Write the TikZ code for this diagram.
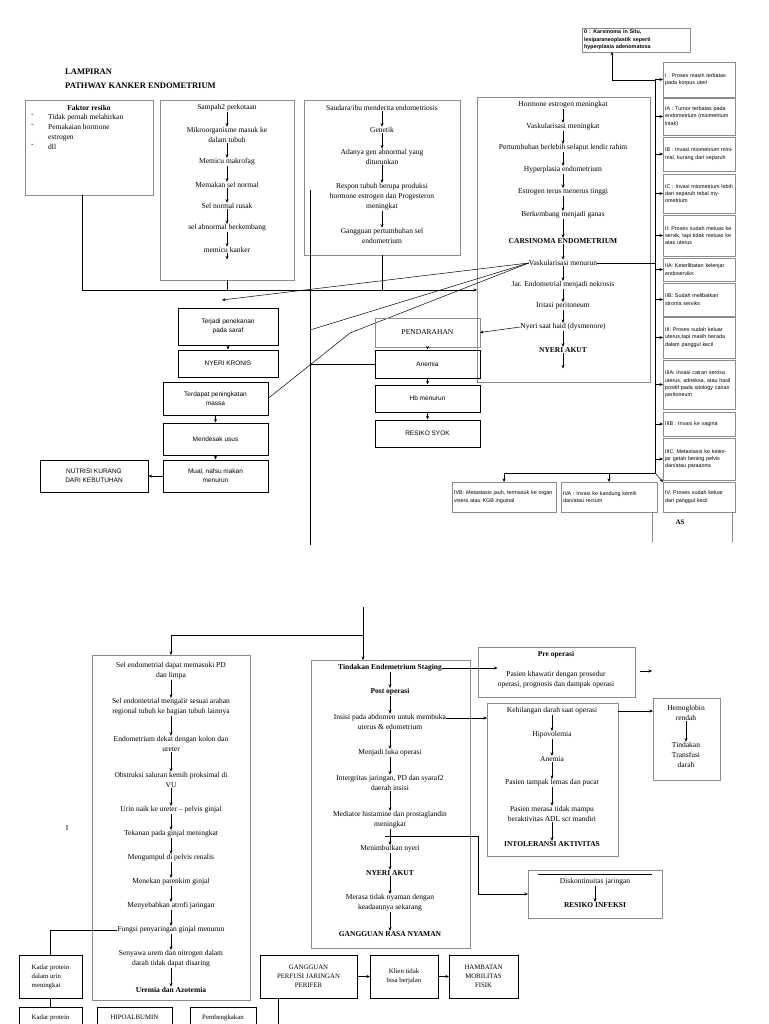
\documentclass[tikz,border=0pt]{standalone}
\usepackage{fontspec}
\setmainfont{Liberation Serif}
\newfontfamily\sansf{Liberation Sans}
\usetikzlibrary{arrows.meta,calc}
\tikzset{
  tx/.style={font=\fontsize{7.5}{10}\selectfont, align=center, inner sep=0pt},
  bt/.style={font=\bfseries\fontsize{7.5}{10}\selectfont, align=center, inner sep=0pt},
  gbox/.style={draw=black!45, anchor=north west, inner sep=0pt, outer sep=0pt},
  kbox/.style={draw, line width=0.8pt, anchor=north west, align=center, inner sep=1pt,
    outer sep=0pt, font=\sansf\fontsize{6.5}{9}\selectfont},
  sbox/.style={draw=black!45, anchor=north west, inner sep=2pt, align=left, text width=68pt,
    outer sep=0pt, font=\sansf\fontsize{5.4}{7.4}\selectfont},
  rbox/.style={draw=black!60, anchor=north west, align=center, inner sep=1pt, outer sep=0pt,
    font=\fontsize{6.8}{9}\selectfont},
  ar/.style={-{Stealth[length=3.5pt,width=3pt]}, line width=0.5pt},
  ln/.style={line width=0.5pt},
  ch/.style={ar, shorten >=0.5pt, shorten <=0.5pt}
}
\begin{document}
\begin{tikzpicture}[x=1pt,y=-1pt]
\useasboundingbox (0,0) rectangle (768,1024);
\fill[white] (0,0) rectangle (768,1024);

% ---------- title
\node[bt, anchor=west, font=\bfseries\fontsize{8.5}{10}\selectfont] (ttl1) at (65,72) {LAMPIRAN};
\node[bt, anchor=west, font=\bfseries\fontsize{8.5}{10}\selectfont] (ttl2) at (65,86) {PATHWAY KANKER ENDOMETRIUM};

% ---------- Faktor resiko
\node[gbox, minimum width=128, minimum height=95] (fak) at (25,100) {};
\node[bt] (fak0) at (89,108) {Faktor resiko};
\node[tx, anchor=north west, align=left] (fak1) at (31,114) {-\\-\\\strut\\-};
\node[tx, anchor=north west, align=left] (fak2) at (48,114) {Tidak pernah melahirkan\\Pemakaian hormone\\estrogen\\dll};

% ---------- Sampah2
\node[gbox, minimum width=134, minimum height=180] (sam) at (160,100) {};
\node[tx] (a1) at (227,108) {Sampah2 perkotaan};
\node[tx] (a2) at (227,135) {Mikroorganisme masuk ke\\dalam tubuh};
\node[tx] (a3) at (227,162) {Memicu makrofag};
\node[tx] (a4) at (227,185) {Memakan sel normal};
\node[tx] (a5) at (227,206) {Sel normal rusak};
\node[tx] (a6) at (227,228) {sel abnormal berkembang};
\node[tx] (a7) at (227,250) {memicu kanker};
\coordinate (a8) at (227,260);
\foreach \p/\q in {a1/a2,a2/a3,a3/a4,a4/a5,a5/a6,a6/a7} \draw[ch] (\p.south) -- (\q.north);
\draw[ch] (a7.south) -- (a8);

% ---------- Saudara
\node[gbox, minimum width=156, minimum height=155] (sau) at (304,100) {};
\node[tx] (b1) at (382,108) {Saudara/ibu menderita endometriosis};
\node[tx] (b2) at (382,130) {Genetik};
\node[tx] (b3) at (382,157) {Adanya gen abnormal yang\\diturunkan};
\node[tx] (b4) at (382,197) {Respon tubuh berupa produksi\\hormone estrogen dan Progesteron\\meningkat};
\node[tx] (b5) at (382,236) {Gangguan pertumbuhan sel\\endometrium};
\foreach \p/\q in {b1/b2,b2/b3,b3/b4,b4/b5} \draw[ch] (\p.south) -- (\q.north);

% ---------- main chain
\node[gbox, minimum width=173, minimum height=285] (mainb) at (477,97) {};
\node[tx] (c1) at (563,105) {Hormone estrogen meningkat};
\node[tx] (c2) at (563,127) {Vaskularisasi meningkat};
\node[tx] (c3) at (563,148) {Pertumbuhan berlebih selaput lendir rahim};
\node[tx] (c4) at (563,170) {Hyperplasia endometrium};
\node[tx] (c5) at (563,192) {Estrogen terus menerus tinggi};
\node[tx] (c6) at (563,215) {Berkembang menjadi ganas};
\node[bt] (c7) at (563,241) {CARSINOMA ENDOMETRIUM};
\node[tx] (c8) at (563,263) {Vaskularisasi menurun};
\node[tx] (c9) at (563,285) {Jar. Endometrial menjadi nekrosis};
\node[tx] (c10) at (563,306) {Iritasi peritoneum};
\node[tx] (c11) at (563,327) {Nyeri saat haid (dysmenore)};
\node[bt] (c12) at (563,350) {NYERI AKUT};
\coordinate (c13) at (563,369);
\foreach \p/\q in {c1/c2,c2/c3,c3/c4,c4/c5,c5/c6,c6/c7,c7/c8,c8/c9,c9/c10,c10/c11,c11/c12} \draw[ch] (\p.south) -- (\q.north);
\draw[ch] (c12.south) -- (c13);

% ---------- collector line
\coordinate (j1) at (82,290);
\coordinate (j2) at (227,290);
\coordinate (j3) at (382,290);
\draw[ln] (fak.south -| j1) -- (j1);
\draw[ln] (sam.south -| j2) -- (j2);
\draw[ln] (sau.south -| j3) -- (j3);
\draw[ar] (j1) -- (j1 -| mainb.west);

% ---------- left branch
\node[kbox, minimum width=100, minimum height=37] (pen) at (178,308) {Terjadi penekanan\\pada saraf};
\node[kbox, minimum width=100, minimum height=27] (nk) at (178,350) {NYERI KRONIS};
\node[kbox, minimum width=105, minimum height=33] (trd) at (163,382) {Terdapat peningkatan\\massa};
\node[kbox, minimum width=105, minimum height=32] (mds) at (163,423) {Mendesak usus};
\node[kbox, minimum width=105, minimum height=32] (mual) at (163,460) {Mual, nafsu makan\\menurun};
\node[kbox, minimum width=108, minimum height=32] (nut) at (40,460) {NUTRISI KURANG\\DARI KEBUTUHAN};
\draw[ch] (pen) -- (nk);
\draw[ch] (trd) -- (mds);
\draw[ch] (mds) -- (mual);
\draw[ch] (mual) -- (nut);

% ---------- fan from Vaskularisasi menurun
\coordinate (penin) at (222,300);
\coordinate (k1) at (310,330);
\coordinate (k2) at (350,333);
\coordinate (v1) at (310,190);
\coordinate (v2) at (310,545);
\draw[ar] (c8.west) -- (penin);
\draw[ln] (c8.west) -- (k1);
\draw[ln] (c8.west) -- (k2) -- (trd.east);
\draw[ln] (v1) -- (v2);

% ---------- pendarahan
\node[rbox, draw=black!45, minimum width=105, minimum height=29, font=\fontsize{7.5}{9}\selectfont] (pend) at (375,318) {PENDARAHAN};
\node[kbox, minimum width=105, minimum height=28] (anm) at (375,350) {Anemia};
\node[kbox, minimum width=105, minimum height=27] (hb) at (375,385) {Hb menurun};
\node[kbox, minimum width=105, minimum height=27] (syk) at (375,420) {RESIKO SYOK};
\draw[ar] (c11.west) -- (pend.east);
\draw[ch] (pend) -- (anm);
\draw[ch] (anm) -- (hb);
\draw[ch] (hb) -- (syk);
\draw[ln] (anm.west -| v1) -- (anm.west);

% ---------- stage column
\node[sbox, text width=104pt, font=\sansf\bfseries\fontsize{5.4}{7.4}\selectfont] (s0) at (582,28) {0 : Karsinoma in Situ,\\lesiparaneoplastik seperti\\hyperplasia adenomatosa};
\node[sbox, minimum height=35] (s1) at (663,62) {I : Proses masih terbatas pada korpus uteri};
\node[sbox, minimum height=37] (s2) at (663,98) {IA : Tumor terbatas pada endometrium (miometrium intak)};
\node[sbox, minimum height=34] (s3) at (663,137) {IB : Invasi miometrium minimal, kurang dari separuh};
\node[sbox, minimum height=39] (s4) at (663,174) {IC : Invasi miometrium lebih dari separuh tebal myometrium};
\node[sbox, minimum height=41] (s5) at (663,215) {II: Proses sudah meluas ke servik, tapi tidak meluas ke atas uterus};
\node[sbox, minimum height=23] (s6) at (663,258) {IIA: Keterlibatan kelenjar endoserviks};
\node[sbox, minimum height=33] (s7) at (663,283) {IIB: Sudah melibatkan stroma serviks};
\node[sbox, minimum height=41] (s8) at (663,317) {III: Proses sudah keluar uterus,tapi masih berada dalam panggul kecil};
\node[sbox, minimum height=49] (s9) at (663,360) {IIIA: Invasi cairan serosa uterus, adneksa, atau hasil positif pada sitology cairan peritoneum};
\node[sbox, minimum height=24] (s10) at (663,412) {IIIB : Invasi ke vagina};
\node[sbox, minimum height=42] (s11) at (663,438) {IIIC: Metastasis ke kelenjar getah bening pelvis dan/atau paraaorta};
\node[sbox, minimum height=30] (s12) at (663,482) {IV: Proses sudah keluar dari panggul kecil};
\node[sbox, text width=100pt, minimum height=30] (ivb) at (452,482) {IVB: Metastasis jauh, termasuk ke organ visera atau KGB inguinal};
\node[sbox, text width=92pt, minimum height=30] (iva) at (561,482) {IVA : Invasi ke kandung kemih dan/atau rectum};

\coordinate (sp) at (655,80);
\coordinate (c0) at (612,80);
\coordinate (sb) at (655,473);
\draw[ln] (sp) -- (sb);
\draw[ln] (sp) -- (c0);
\draw[ar] (c0) -- (c0 |- s0.south);
\foreach \s in {s1,s2,s3,s4,s5,s6,s7,s8,s9,s10,s11} \draw[ar] (\s.west -| sp) -- (\s.west);
\draw[ln] (c8.east) -- (c8.east -| sp);
\draw[ar] (sb) -| (ivb.north);
\draw[ar] (sb) -| (iva.north);
\draw[ar] (sb) -- (s12.north west);
\node[bt, font=\bfseries\fontsize{7}{8}\selectfont] (as) at (680,522) {AS};
\coordinate (w1) at (652,512);
\coordinate (w2) at (652,542);
\coordinate (w3) at (732,512);
\coordinate (w4) at (732,542);
\draw[draw=black!45] (w1) -- (w2);
\draw[draw=black!45] (w3) -- (w4);

% ---------- lower half
\coordinate (t0) at (363,607);
\coordinate (t1) at (363,635);
\node[gbox, minimum width=158, minimum height=345] (lb) at (92,655) {};
\node[gbox, minimum width=159, minimum height=288] (mb) at (311,660) {};
\draw[ln] (t0) -- (t1);
\draw[ar] (t1) -| (lb.north);
\draw[ar] (t1) -- (t1 |- mb.north);

\node[tx] (l1) at (171,671) {Sel endometrial dapat memasuki PD\\dan limpa};
\node[tx] (l2) at (171,707) {Sel endometrial mengalir sesuai arahan\\regional tubuh ke bagian tubuh lainnya};
\node[tx] (l3) at (171,744) {Endometrium dekat dengan kolon dan\\ureter};
\node[tx] (l4) at (171,780) {Obstruksi saluran kemih proksimal di\\VU};
\node[tx] (l5) at (171,810) {Urin naik ke ureter -- pelvis ginjal};
\node[tx] (l6) at (171,834) {Tekanan pada ginjal meningkat};
\node[tx] (l7) at (171,858) {Mengumpul di pelvis renalis};
\node[tx] (l8) at (171,882) {Menekan parenkim ginjal};
\node[tx] (l9) at (171,906) {Menyebabkan atrofi jaringan};
\node[tx] (l10) at (171,930) {Fungsi penyaringan ginjal menurun};
\node[tx] (l11) at (171,959) {Senyawa urem dan nitrogen dalam\\darah tidak dapat disaring};
\node[bt] (l12) at (171,990) {Uremia dan Azotemia};
\foreach \p/\q in {l1/l2,l2/l3,l3/l4,l4/l5,l5/l6,l6/l7,l7/l8,l8/l9,l9/l10,l10/l11,l11/l12} \draw[ch] (\p.south) -- (\q.north);

\node[tx] (bar) at (67,828) {I};
\node[rbox, align=left, minimum width=63, minimum height=43, draw=black] (kp1) at (19,955) {Kadar protein\\dalam urin\\meningkat};
\node[rbox, align=left, minimum width=63, minimum height=30, draw=black, anchor=north west] (kp2) at (19,1007) {Kadar protein\\};
\node[rbox, minimum width=75, minimum height=30, draw=black] (hip) at (97,1007) {HIPOALBUMIN\\};
\node[rbox, minimum width=66, minimum height=30, draw=black] (pmb) at (190,1007) {Pembengkakan\\};
\draw[ln] (l10.west) -| (kp1.north);
\draw[ln] (kp1.south) -- (kp2.north);

\node[bt] (m1) at (390,668) {Tindakan Endemetrium Staging};
\node[bt] (m2) at (390,692) {Post operasi};
\node[tx] (m3) at (390,722) {Insisi pada abdomen untuk membuka\\uterus \& edometrium};
\node[tx] (m4) at (390,753) {Menjadi luka operasi};
\node[tx] (m5) at (390,783) {Intergritas jaringan, PD dan syaraf2\\daerah insisi};
\node[tx] (m6) at (390,820) {Mediator histamine dan prostaglandin\\meningkat};
\node[tx] (m7) at (390,849) {Menimbulkan nyeri};
\node[bt] (m8) at (390,873) {NYERI AKUT};
\node[tx] (m9) at (390,903) {Merasa tidak nyaman dengan\\keadaannya sekarang};
\node[bt] (m10) at (390,934) {GANGGUAN RASA NYAMAN};
\foreach \p/\q in {m1/m2,m2/m3,m3/m4,m4/m5,m5/m6,m6/m7,m7/m8,m8/m9,m9/m10} \draw[ch] (\p.south) -- (\q.north);

\node[gbox, minimum width=157, minimum height=50] (preb) at (478,647) {};
\node[bt] (p1) at (556,655) {Pre operasi};
\node[tx] (p2) at (556,680) {Pasien khawatir dengan prosedur\\operasi, prognosis dan dampak operasi};
\draw[ar] (m1.east) -- (m1.east -| p2.west);
\coordinate (pa) at (640,671);
\coordinate (pb) at (652,671);
\draw[ar] (pa) -- (pb);

\node[gbox, minimum width=131, minimum height=153] (kb) at (487,703) {};
\node[tx] (k1t) at (552,711) {Kehilangan darah saat operasi};
\node[tx] (k2t) at (552,735) {Hipovolemia};
\node[tx] (k3t) at (552,759) {Anemia};
\node[tx] (k4t) at (552,783) {Pasien tampak lemas dan pucat};
\node[tx] (k5t) at (552,814) {Pasien merasa tidak mampu\\beraktivitas ADL scr mandiri};
\node[bt] (k6t) at (552,844) {INTOLERANSI AKTIVITAS};
\foreach \p/\q in {k1t/k2t,k2t/k3t,k3t/k4t,k4t/k5t,k5t/k6t} \draw[ch] (\p.south) -- (\q.north);
\draw[ar] (m3.east |- 0,718) -- (kb.west |- 0,718);

\node[gbox, minimum width=67, minimum height=82] (hbb) at (653,698) {};
\node[tx] (h1) at (686,713) {Hemoglobin\\rendah};
\node[tx] (h2) at (686,755) {Tindakan\\Transfusi\\darah};
\draw[ch] (h1) -- (h2);
\draw[ar] (k1t.east -| kb.east) -- (k1t.east -| hbb.west);

\node[gbox, minimum width=134, minimum height=48] (dk) at (528,870) {};
\coordinate (dl1) at (538,874);
\coordinate (dl2) at (652,874);
\draw[ln] (dl1) -- (dl2);
\node[tx] (d1) at (595,882) {Diskontinuitas jaringan};
\node[bt] (d2) at (595,905) {RESIKO INFEKSI};
\draw[ch] (d1) -- (d2);
\coordinate (mbr) at (385,836);
\coordinate (md1) at (478,836);
\draw[ar] (mbr) -- (md1) |- (dk.west);

\node[rbox, draw=black, minimum width=97, minimum height=43] (g1) at (260,955) {GANGGUAN\\PERFUSI JARINGAN\\PERIFER};
\node[rbox, draw=black, minimum width=68, minimum height=43] (g2) at (370,955) {Klien tidak\\bisa berjalan};
\node[rbox, draw=black, minimum width=69, minimum height=43] (g3) at (449,955) {HAMBATAN\\MOBILITAS\\FISIK};
\draw[ar] (g1) -- (g2);
\draw[ar] (g2) -- (g3);
\coordinate (gb) at (278,1030);
\draw[ln] (g1.south -| gb) -- (gb);
\end{tikzpicture}
\end{document}
